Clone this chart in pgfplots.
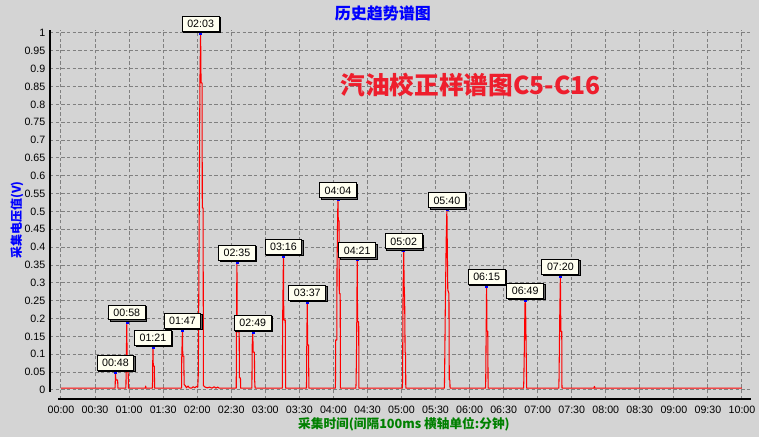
\documentclass[border=0pt]{standalone}
\usepackage{fontspec}
\setmainfont{Liberation Sans}
\newfontfamily\cjk{Noto Sans CJK SC}
\usepackage{pgfplots}
\pgfplotsset{compat=1.18}
\usetikzlibrary{shadows,backgrounds}
\definecolor{bg}{RGB}{212,212,212}
\definecolor{tagfill}{RGB}{255,255,240}
\definecolor{bigred}{RGB}{238,30,45}
\definecolor{xlab}{RGB}{0,128,0}
\begin{document}
\begin{tikzpicture}[x=0.75pt,y=0.75pt]
\begin{axis}[
    scale only axis,
    width=525.75pt, height=276.75pt,
    xmin=-9.69, xmax=607.9,
    ymin=-0.0252, ymax=1.0084,
    clip=false,
    axis x line=bottom, axis y line=left,
    axis line style={-, black, line width=1.5pt},
    x axis line style={shorten <=6pt},
    y axis line style={shorten <=5.25pt},
    major tick length=0pt,
    xtick={0,30,60,90,120,150,180,210,240,270,300,330,360,390,420,450,480,510,540,570,600},
    xticklabels={00:00,00:30,01:00,01:30,02:00,02:30,03:00,03:30,04:00,04:30,05:00,05:30,06:00,06:30,07:00,07:30,08:00,08:30,09:00,09:30,10:00},
    ytick={0,0.05,0.1,0.15,0.2,0.25,0.3,0.35,0.4,0.45,0.5,0.55,0.6,0.65,0.7,0.75,0.8,0.85,0.9,0.95,1},
    yticklabel style={/pgf/number format/fixed, /pgf/number format/precision=2, /pgf/number format/assume math mode=true},
    ticklabel style={font=\fontsize{8}{9.6}\selectfont, black},
    xticklabel style={yshift=-1.5pt},
    grid=major,
    grid style={gray, line width=0.75pt, dash pattern=on 2.5pt off 1.75pt},
]
% picture corners (759 x 437 px) in axis units
\coordinate (BL) at (axis cs:-53.74,-0.1317);
\coordinate (TR) at (axis cs:615.0,1.0924);
\addplot[red, line width=0.8pt, line join=round] coordinates {
(0,0.005)
(47.7,0.005)(48,0.05)(48.3,0.028)(49.9,0.028)(50.2,0.005)
(57.2,0.005)(57.4,0.051)(58,0.191)(58.3,0.051)(59.2,0.051)(59.4,0.005)
(74.3,0.005)(74.6,0.011)(74.9,0.005)
(80.6,0.005)(81,0.12)(81.3,0.067)(82.2,0.067)(82.5,0.005)
(106.2,0.005)(106.4,0.09)(107,0.168)(107.3,0.095)(108.2,0.095)(108.5,0.015)(109.5,0.012)(110.5,0.006)(112,0.011)(113,0.006)(115,0.005)(116.5,0.009)(118,0.006)(119.5,0.01)
(120.5,0.008)(121,0.045)(121.6,0.38)(122.4,0.86)(123,1.0)(123.4,0.86)(124.3,0.86)(124.5,0.51)(125.2,0.51)(125.5,0.012)(127,0.008)(129,0.006)(131,0.008)(133,0.005)(135,0.009)(136.5,0.005)(138,0.008)(139.5,0.005)
(154.4,0.005)(154.6,0.163)(155,0.358)(155.3,0.163)(157.0,0.163)(157.2,0.034)(158.1,0.034)(158.3,0.005)
(168.2,0.005)(168.5,0.126)(169,0.162)(169.3,0.106)(170.4,0.106)(170.6,0.03)(171,0.005)
(195,0.005)(195.3,0.196)(196,0.375)(196.3,0.196)(197.6,0.196)(197.9,0.005)
(216.3,0.005)(216.6,0.143)(217,0.246)(217.3,0.126)(218.1,0.126)(218.4,0.005)
(241.8,0.005)(242.0,0.14)(243.0,0.14)(243.2,0.34)(243.7,0.474)(244,0.534)(244.3,0.474)(245.0,0.474)(245.2,0.27)(246.0,0.27)(246.2,0.005)
(259.8,0.005)(260,0.02)(260.5,0.14)(261,0.366)(261.3,0.191)(262.3,0.191)(262.5,0.005)
(300.8,0.005)(301,0.056)(301.4,0.28)(302,0.39)(302.3,0.299)(302.8,0.25)(303.2,0.104)(303.6,0.104)(303.8,0.005)
(337.8,0.005)(338.1,0.075)(338.6,0.23)(339.4,0.42)(340,0.506)(340.3,0.42)(340.8,0.28)(341.8,0.27)(342.1,0.028)(342.6,0.028)(342.8,0.005)
(374,0.005)(374.2,0.02)(374.6,0.165)(375,0.291)(375.3,0.165)(376,0.165)(376.3,0.005)
(407.6,0.005)(407.8,0.03)(408.3,0.126)(408.8,0.24)(409,0.252)(409.3,0.24)(409.8,0.126)(410.3,0.005)
(438.6,0.005)(438.8,0.03)(439.4,0.198)(440,0.319)(440.4,0.164)(441.2,0.164)(441.4,0.005)
(469.6,0.005)(470,0.01)(470.4,0.005)
(600,0.005)
};
% peak tags
\addplot[only marks, mark=square*, mark size=0.75pt, blue,
    point meta=explicit symbolic,
    nodes near coords,
    every node near coord/.append style={anchor=south, yshift=1pt, draw=black, fill=tagfill,
        line width=0.75pt, inner xsep=3.8pt, inner ysep=2.6pt, text height=6pt, text depth=0pt,
        font=\fontsize{8}{9.6}\selectfont, text=black,
        drop shadow={shadow xshift=1.2pt, shadow yshift=-1.2pt, fill=black!60, opacity=1}},
] coordinates {
(48,0.05) [00:48]
(58,0.191) [00:58]
(81,0.12) [01:21]
(107,0.168) [01:47]
(123,1.0) [02:03]
(155,0.358) [02:35]
(169,0.162) [02:49]
(196,0.375) [03:16]
(217,0.246) [03:37]
(244,0.534) [04:04]
(261,0.366) [04:21]
(302,0.39) [05:02]
(340,0.506) [05:40]
(375,0.291) [06:15]
(409,0.252) [06:49]
(440,0.319) [07:20]
};
\end{axis}
\begin{scope}[on background layer]
\fill[bg] (BL) rectangle (TR);
\end{scope}
\begin{scope}[shift={(BL)}]
\node[text=blue, font=\cjk\bfseries\fontsize{12}{14}\selectfont] at (383,424) {历史趋势谱图};
\node[text=bigred, font=\cjk\bfseries\fontsize{18.5}{22}\selectfont] at (470.5,352) {汽油校正样谱图C5-C16};
\node[text=blue, rotate=90, font=\cjk\bfseries\fontsize{9}{11}\selectfont] at (17,217) {采集电压值(V)};
\node[text=xlab, font=\cjk\bfseries\fontsize{9.5}{11}\selectfont] at (404,13) {采集时间(间隔100ms 横轴单位:分钟)};
\end{scope}
\pgfresetboundingbox
\useasboundingbox (BL) rectangle (TR);
\end{tikzpicture}
\end{document}
